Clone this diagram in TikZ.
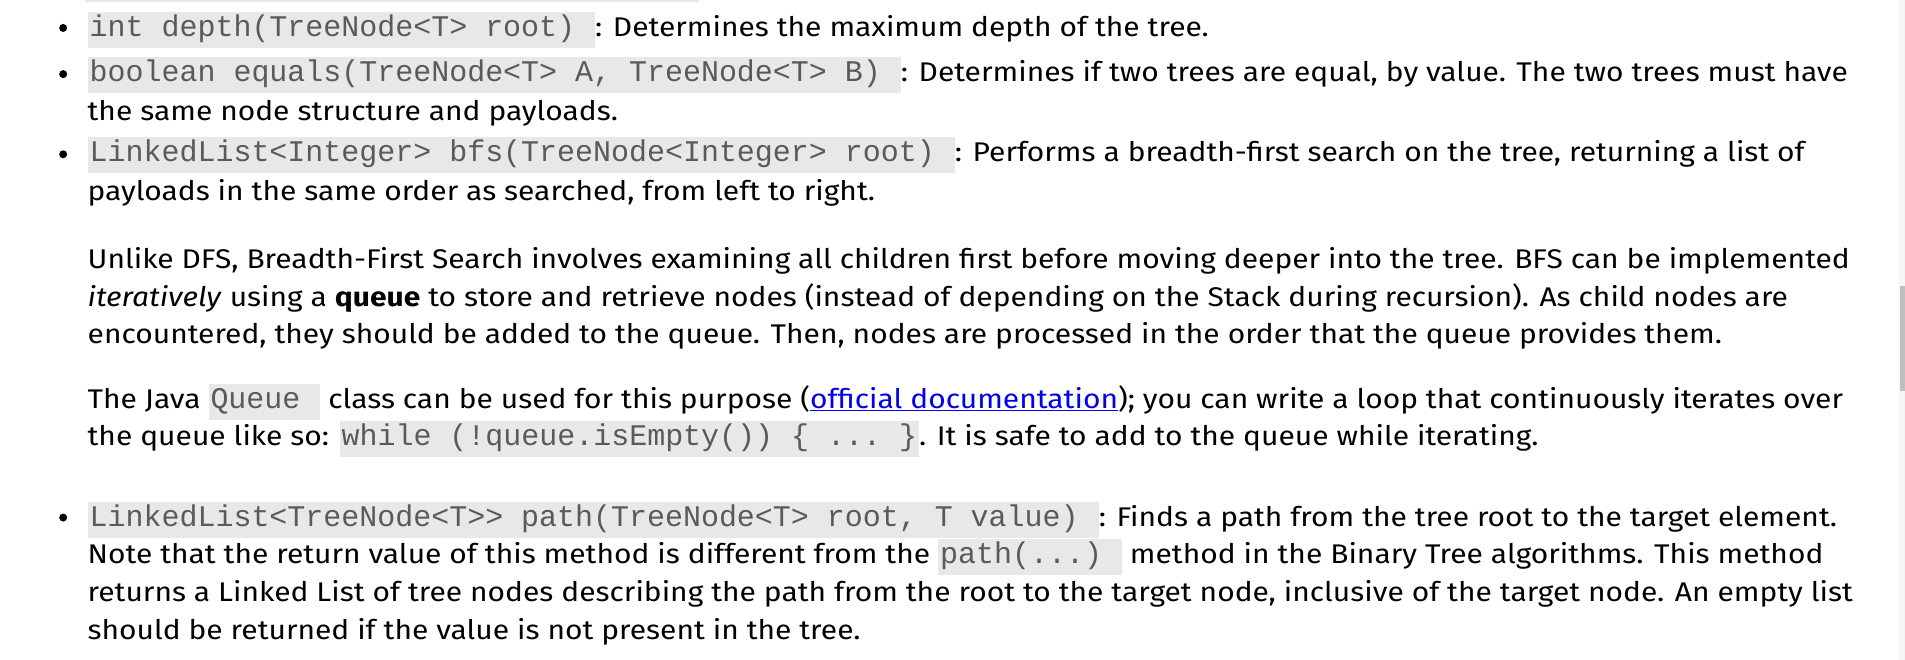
\documentclass[tikz,border=0pt]{standalone}
\usepackage{fontspec}
\setmainfont{Fira Sans}[FakeStretch=1.11]
\setmonofont{Liberation Mono}[Scale=1.11]
\usepackage{xcolor}
\definecolor{codebg}{HTML}{E8E8E8}
\definecolor{codefg}{HTML}{5A5A5A}
\definecolor{linkc}{HTML}{0000EE}
\newcommand{\cd}[1]{{\setlength{\fboxsep}{2pt}\colorbox{codebg}{\strut\color{codefg}\ttfamily #1}}}
\newcommand{\lnk}[1]{{\color{linkc}\underline{#1}}}
\tikzset{ln/.style={anchor=base west,inner sep=0pt,font=\fontsize{27}{32}\selectfont},
bul/.style={fill=black,circle,inner sep=0pt,minimum size=8pt}}
\begin{document}
\begin{tikzpicture}[x=1.215pt,y=-1.215pt]
\useasboundingbox (0,0) rectangle (1568,543);
\fill[white] (0,0) rectangle (1568,543);
\fill[codebg] (70,0) rectangle (575,2);
\fill[black!4] (1563,0) rectangle (1568,543);
\fill[black!25] (1564,235) rectangle (1568,322);
\node[bul] (b1) at (52,23) {};
\node[bul] (b2) at (52,61) {};
\node[bul] (b3) at (52,127) {};
\node[bul] (b4) at (52,426) {};
\node[ln] (l1) at (72,30) {\cd{int depth(TreeNode<T> root) }: Determines the maximum depth of the tree.};
\node[ln] (l2) at (72,67) {\cd{boolean equals(TreeNode<T> A, TreeNode<T> B) }: Determines if two trees are equal, by value. The two trees must have};
\node[ln] (l3) at (72,99) {the same node structure and payloads.};
\node[ln] (l4) at (72,133) {\cd{LinkedList<Integer> bfs(TreeNode<Integer> root) }: Performs a breadth-first search on the tree, returning a list of};
\node[ln] (l5) at (72,165) {payloads in the same order as searched, from left to right.};
\node[ln] (l6) at (72,221) {Unlike DFS, Breadth-First Search involves examining all children first before moving deeper into the tree. BFS can be implemented};
\node[ln] (l7) at (72,252) {\textit{iteratively} using a \textbf{queue} to store and retrieve nodes (instead of depending on the Stack during recursion). As child nodes are};
\node[ln] (l8) at (72,283) {encountered, they should be added to the queue. Then, nodes are processed in the order that the queue provides them.};
\node[ln] (l9) at (72,336) {The Java \cd{Queue } class can be used for this purpose (\lnk{official documentation}); you can write a loop that continuously iterates over};
\node[ln] (l10) at (72,367) {the queue like so: \cd{while (!queue.isEmpty()) \{ ... \}}. It is safe to add to the queue while iterating.};
\node[ln] (l11) at (72,433) {\cd{LinkedList<TreeNode<T>> path(TreeNode<T> root, T value)  }: Finds a path from the tree root to the target element.};
\node[ln] (l12) at (72,464) {Note that the return value of this method is different from the \cd{path(...) } method in the Binary Tree algorithms. This method};
\node[ln] (l13) at (72,495) {returns a Linked List of tree nodes describing the path from the root to the target node, inclusive of the target node. An empty list};
\node[ln] (l14) at (72,526) {should be returned if the value is not present in the tree.};
\end{tikzpicture}
\end{document}
